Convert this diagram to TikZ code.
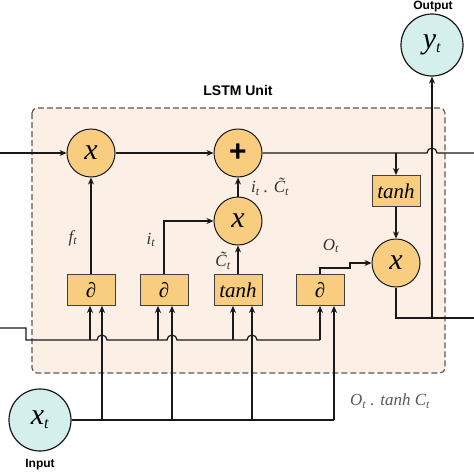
\documentclass[tikz,border=0pt]{standalone}
\usepackage{fontspec}
\setmainfont{Liberation Serif}
\newfontfamily\hv{Liberation Sans}
\usetikzlibrary{arrows.meta}
\definecolor{gate}{HTML}{F9CD7F}
\definecolor{inout}{HTML}{D4EFEC}
\definecolor{unitbg}{HTML}{FCEFE6}
\begin{document}
\begin{tikzpicture}[x=1pt,y=-1pt,
  op/.style={circle,draw=black!90,fill=gate,line width=1pt,minimum size=48pt,inner sep=0pt,font=\fontsize{30}{30}\selectfont\itshape},
  io/.style={circle,draw=black!90,fill=inout,line width=1.2pt,minimum size=62pt,inner sep=0pt,font=\fontsize{30}{30}\selectfont\itshape},
  gatebox/.style={draw=black!75,fill=gate,line width=0.8pt,minimum width=48pt,minimum height=31pt,inner sep=0pt,font=\fontsize{21}{21}\selectfont\itshape},
  wire/.style={line width=1.2pt,draw=black!90},
  arr/.style={wire,-{Stealth[length=7pt,width=6pt]}},
  lbl/.style={font=\fontsize{17}{17}\selectfont\itshape,text=black!80},
  ttl/.style={font=\hv\bfseries\fontsize{12}{12}\selectfont}
]
\useasboundingbox (0,0) rectangle (474,474);
% unit frame
\draw[dashed,dash pattern=on 6pt off 3pt,line width=1.2pt,draw=black!65,fill=unitbg,rounded corners=5pt] (32,108) rectangle (445,373);
\node[ttl,font=\hv\bfseries\fontsize{14}{14}\selectfont] (lstm) at (238,90) {LSTM Unit};
\node[ttl] (outl) at (433,7) {Output};
\node[ttl] (inl) at (40,465) {Input};
% nodes
\node[io] (yt) at (432,45) {y\textsubscript{\fontsize{16}{16}\selectfont t}};
\node[io] (xt) at (40,420) {x\textsubscript{\fontsize{16}{16}\selectfont t}};
\node[op] (m1) at (91,153) {x};
\node[op] (add) at (238,153) {\upshape\bfseries\hv +};
\node[op] (m2) at (238,221) {x};
\node[op] (m3) at (396,263) {x};
\node[gatebox] (tc) at (396,191) {tanh};
\node[gatebox] (s1) at (91,290) {∂};
\node[gatebox] (s2) at (164,290) {∂};
\node[gatebox] (s3) at (238,290) {tanh};
\node[gatebox] (s4) at (320,290) {∂};
% coordinates
\coordinate (cin) at (0,153);
\coordinate (cout) at (474,153);
\coordinate (br) at (396,153);
\coordinate (hin) at (0,328);
\coordinate (hout) at (474,318);
\coordinate (yj) at (432,318);
\coordinate (h1) at (90,340);
\coordinate (h2) at (158,340);
\coordinate (h3) at (233,340);
\coordinate (h4) at (320,340);
\coordinate (x1) at (102,420);
\coordinate (x2) at (172,420);
\coordinate (x3) at (252,420);
\coordinate (x4) at (334,420);
% cell state
\draw[arr] (cin) -- (m1);
\draw[arr] (m1) -- (add);
\draw[wire] (add.east) -- (427,153) arc (180:360:5) -- (cout);
\draw[arr] (br) -- (tc.north);
\draw[arr] (tc) -- (m3);
% gates
\draw[arr] (s1) -- (m1);
\draw[arr] (s2.north) |- (m2.west);
\draw[arr] (s3) -- (m2);
\draw[arr] (m2) -- (add);
\draw[arr] (s4.north) -- (320,268) -- (350,268) -- (350,263) -- (m3.west);
% output
\draw[wire] (m3.south) |- (hout);
\draw[arr] (yj) -- (yt.south);
% hidden input
\draw[wire] (hin) -- (26,328) -- (26,340) -- (97,340) arc (180:360:5) -- (167,340) arc (180:360:5) -- (247,340) arc (180:360:5) -- (h4);
\draw[arr] (h1) -- (h1 |- s1.south);
\draw[arr] (h2) -- (h2 |- s2.south);
\draw[arr] (h3) -- (h3 |- s3.south);
\draw[arr] (h4) -- (s4.south);
% x input
\draw[wire] (xt.east) -- (x4);
\draw[arr] (x1) -- (x1 |- s1.south);
\draw[arr] (x2) -- (x2 |- s2.south);
\draw[arr] (x3) -- (x3 |- s3.south);
\draw[arr] (x4) -- (x4 |- s4.south);
% labels
\node[lbl] (lf) at (73,238) {f\textsubscript{t}};
\node[lbl] (li) at (151,240) {i\textsubscript{t}};
\node[lbl] (lc) at (223,261) {\~{C}\textsubscript{t}};
\node[lbl] (lic) at (270,187) {i\textsubscript{t} . \~{C}\textsubscript{t}};
\node[lbl] (lo) at (331,246) {O\textsubscript{t}};
\node[lbl,text=black!65] (loc) at (390,401) {O\textsubscript{t} . tanh C\textsubscript{t}};
\end{tikzpicture}
\end{document}
